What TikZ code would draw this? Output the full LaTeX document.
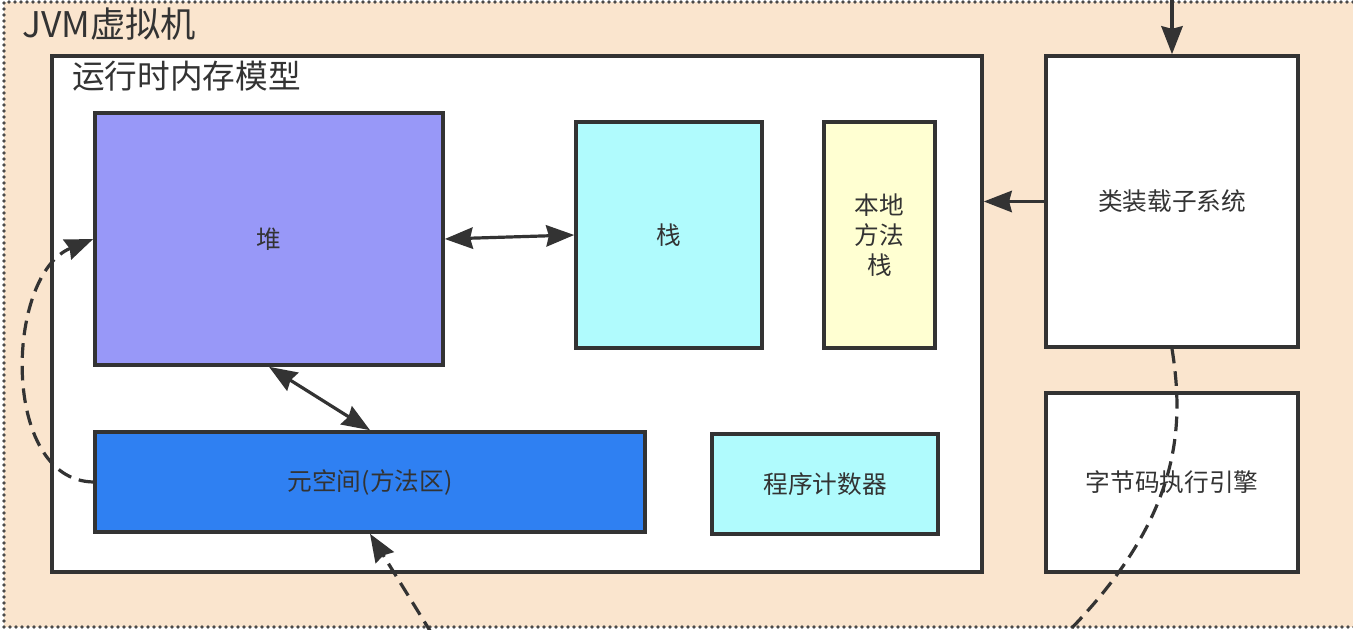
\documentclass[tikz,border=0pt]{standalone}
\usepackage{fontspec}
\setmainfont{Noto Sans CJK SC}
\usetikzlibrary{arrows.meta}
\definecolor{peach}{HTML}{FAE5CE}
\definecolor{heapc}{HTML}{9898F8}
\definecolor{cyanc}{HTML}{B0FBFD}
\definecolor{yelc}{HTML}{FFFFD2}
\definecolor{metac}{HTML}{2F80F2}
\definecolor{dark}{HTML}{333333}
\definecolor{dotc}{HTML}{4A4A4A}
\definecolor{textc}{HTML}{333333}
\tikzset{
  box/.style={draw=dark, line width=2.7pt, inner sep=0pt, text=textc,
    font=\fontsize{18.5}{22.5}\selectfont, align=center},
  arr/.style={draw=dark, line width=2.4pt, -{Stealth[length=21pt,width=16pt,inset=2pt]}},
  darr/.style={draw=dark, line width=2.4pt, {Stealth[length=21pt,width=16pt,inset=2pt]}-{Stealth[length=21pt,width=16pt,inset=2pt]}},
  dashline/.style={draw=dark, line width=2.4pt, dash pattern=on 11pt off 6pt},
  dotborder/.style={draw=dotc, line width=2.7pt, line cap=round, dash pattern=on 0pt off 4.5pt},
}
\begin{document}
\begin{tikzpicture}[x=0.75pt,y=-0.75pt]
\useasboundingbox (0,0) rectangle (1353,630);
% outer JVM area
\fill[peach] (4,2) rectangle (1365,627);
\draw[dotborder] (1365,2) -- (4,2) -- (4,627) -- (1365,627);
\node[anchor=west, inner sep=0pt, text=textc, font=\fontsize{26.5}{30}\selectfont] (jvm) at (22,24) {JVM虚拟机};

% runtime memory model
\node[box, fill=white, minimum width=697.5pt, minimum height=387pt] (rt) at (517,314) {};
\node[anchor=west, inner sep=0pt, text=textc, font=\fontsize{24.5}{28}\selectfont] (rtl) at (72,76) {运行时内存模型};

\node[box, fill=heapc, minimum width=261pt, minimum height=189pt] (heap) at (269,239) {堆};
\node[box, fill=cyanc, minimum width=139.5pt, minimum height=169.5pt] (stack) at (669,235) {栈};
\node[box, fill=yelc, minimum width=83.25pt, minimum height=169.5pt] (native) at (879.5,235) {本地\\方法\\栈};
\node[box, fill=metac, minimum width=412.5pt, minimum height=75pt] (meta) at (370,482) {元空间(方法区)};
\node[box, fill=cyanc, minimum width=169.5pt, minimum height=75pt] (pc) at (825,484) {程序计数器};

% right side
\node[box, fill=white, minimum width=189pt, minimum height=218.25pt] (cl) at (1172,201.5) {类装载子系统};
\node[box, fill=white, minimum width=189pt, minimum height=134.25pt] (engine) at (1172,482.5) {字节码执行引擎};

% connectors
\coordinate (topin) at (1172,-5);
\coordinate (botin) at (432,634);
\coordinate (botout) at (1062,638);
\draw[arr] (topin) -- (cl.north);
\draw[arr] (cl.west) -- (rt.east |- cl.west);
\draw[darr] (heap.east) -- (stack.west);
\draw[darr] (heap.south) -- (meta.north);
\draw[dashline, -{Stealth[length=21pt,width=16pt,inset=2pt]}] (meta.west) .. controls (0,480) and (5,275) .. (heap.west);
\draw[dashline, -{Stealth[length=21pt,width=16pt,inset=2pt]}] (botin) -- (meta.south);
\draw[dashline] (cl.south) .. controls (1185,430) and (1180,520) .. (botout);
\end{tikzpicture}
\end{document}
